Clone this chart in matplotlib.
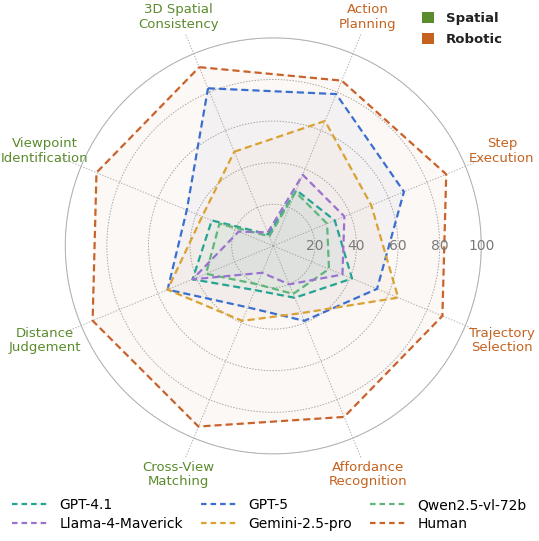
import numpy as np
import matplotlib
matplotlib.use("Agg")
import matplotlib.pyplot as plt
from matplotlib.lines import Line2D
from matplotlib.patches import Patch

categories = ["3D Spatial\nConsistency", "Action\nPlanning", "Step\nExecution",
              "Trajectory\nSelection", "Affordance\nRecognition", "Cross-View\nMatching",
              "Distance\nJudgement", "Viewpoint\nIdentification"]
groups = ["Spatial", "Robotic", "Robotic", "Robotic", "Robotic", "Spatial", "Spatial", "Spatial"]

gpt41 = [6, 29, 32, 41, 27, 23, 42, 32]
gpt5 = [82, 79, 68, 54, 39, 32, 55, 45]
qwen = [5, 28, 28, 29, 25, 20, 35, 28]
llama = [7, 37, 37, 36, 20, 14, 42, 18]
gemini = [49, 65, 51, 65, 35, 39, 55, 37]
human = [93, 86, 90, 88, 89, 94, 94, 92]

series_names = ["GPT-4.1", "GPT-5", "Qwen2.5-vl-72b", "Llama-4-Maverick", "Gemini-2.5-pro", "Human"]
series_vals = [gpt41, gpt5, qwen, llama, gemini, human]
series_colors = ["#27a394", "#3b6fcf", "#5fb57a", "#9a72cf", "#d9a232", "#c9632c"]
group_colors = {"Spatial": "#5a8b2c", "Robotic": "#c5621f"}
rticks = [20, 40, 60, 80, 100]

fig = plt.figure(figsize=(5.39, 5.41), dpi=100)
ax = fig.add_axes([0.121, 0.161, 0.772, 0.769], projection="polar")
ax.set_theta_offset(np.deg2rad(112.5))
ax.set_theta_direction(-1)

n = len(categories)
angles = np.linspace(0, 2 * np.pi, n, endpoint=False)
ang_c = np.concatenate([angles, angles[:1]])

ax.set_ylim(0, 100)
ax.set_xticks(angles)
ax.set_xticklabels([])
ax.xaxis.grid(False)
ax.set_yticks(rticks)
ax.set_yticklabels([])
ax.yaxis.grid(True, color="#aaaaaa", linestyle=(0, (1.5, 1.5)), linewidth=0.7)
ax.spines["polar"].set_color("#b0b0b0")
ax.spines["polar"].set_linewidth(0.7)

# spokes extending beyond the outer ring
for a in angles:
    ax.plot([a, a], [0, 110], color="#b5b5b5", linestyle=(0, (1.5, 1.5)),
            linewidth=0.7, clip_on=False, zorder=1)

for name, vals, col in zip(series_names, series_vals, series_colors):
    v = np.concatenate([vals, vals[:1]])
    ax.fill(ang_c, v, color=col, alpha=0.045, zorder=2)
    ax.plot(ang_c, v, color=col, linewidth=1.6, linestyle=(0, (3.2, 1.8)), zorder=3)

# radial labels along the horizontal (east) direction
east = np.deg2rad(112.5)
for t in rticks:
    ax.text(east, t, str(t), ha="center", va="center", fontsize=10,
            color="#7a7a7a", zorder=5)

for a, lab, g in zip(angles, categories, groups):
    ax.text(a, 119, lab, ha="center", va="center", fontsize=9.5,
            color=group_colors[g], linespacing=1.15)

# group legend top-right
gh = [Patch(facecolor=group_colors[k], edgecolor="none", label=k) for k in ["Spatial", "Robotic"]]
leg1 = fig.legend(handles=gh, loc="upper right", bbox_to_anchor=(0.955, 1.0), frameon=False,
                  prop={"weight": "bold", "size": 9.5}, handlelength=0.9, handleheight=0.9,
                  labelspacing=0.6, handletextpad=0.9)
for txt in leg1.get_texts():
    txt.set_color("#222222")

# model legend bottom
handles = {nm: Line2D([0], [0], color=c, linewidth=1.6, linestyle=(0, (2.5, 1.8)))
           for nm, c in zip(series_names, series_colors)}
order = ["GPT-4.1", "Llama-4-Maverick", "GPT-5", "Gemini-2.5-pro", "Qwen2.5-vl-72b", "Human"]
fig.legend([handles[o] for o in order], order, loc="lower center", ncol=3,
           bbox_to_anchor=(0.5, -0.005), frameon=False, fontsize=10,
           handlelength=2.6, columnspacing=1.3, labelspacing=0.35, handletextpad=0.8)

fig.savefig("out.png", dpi=100)
